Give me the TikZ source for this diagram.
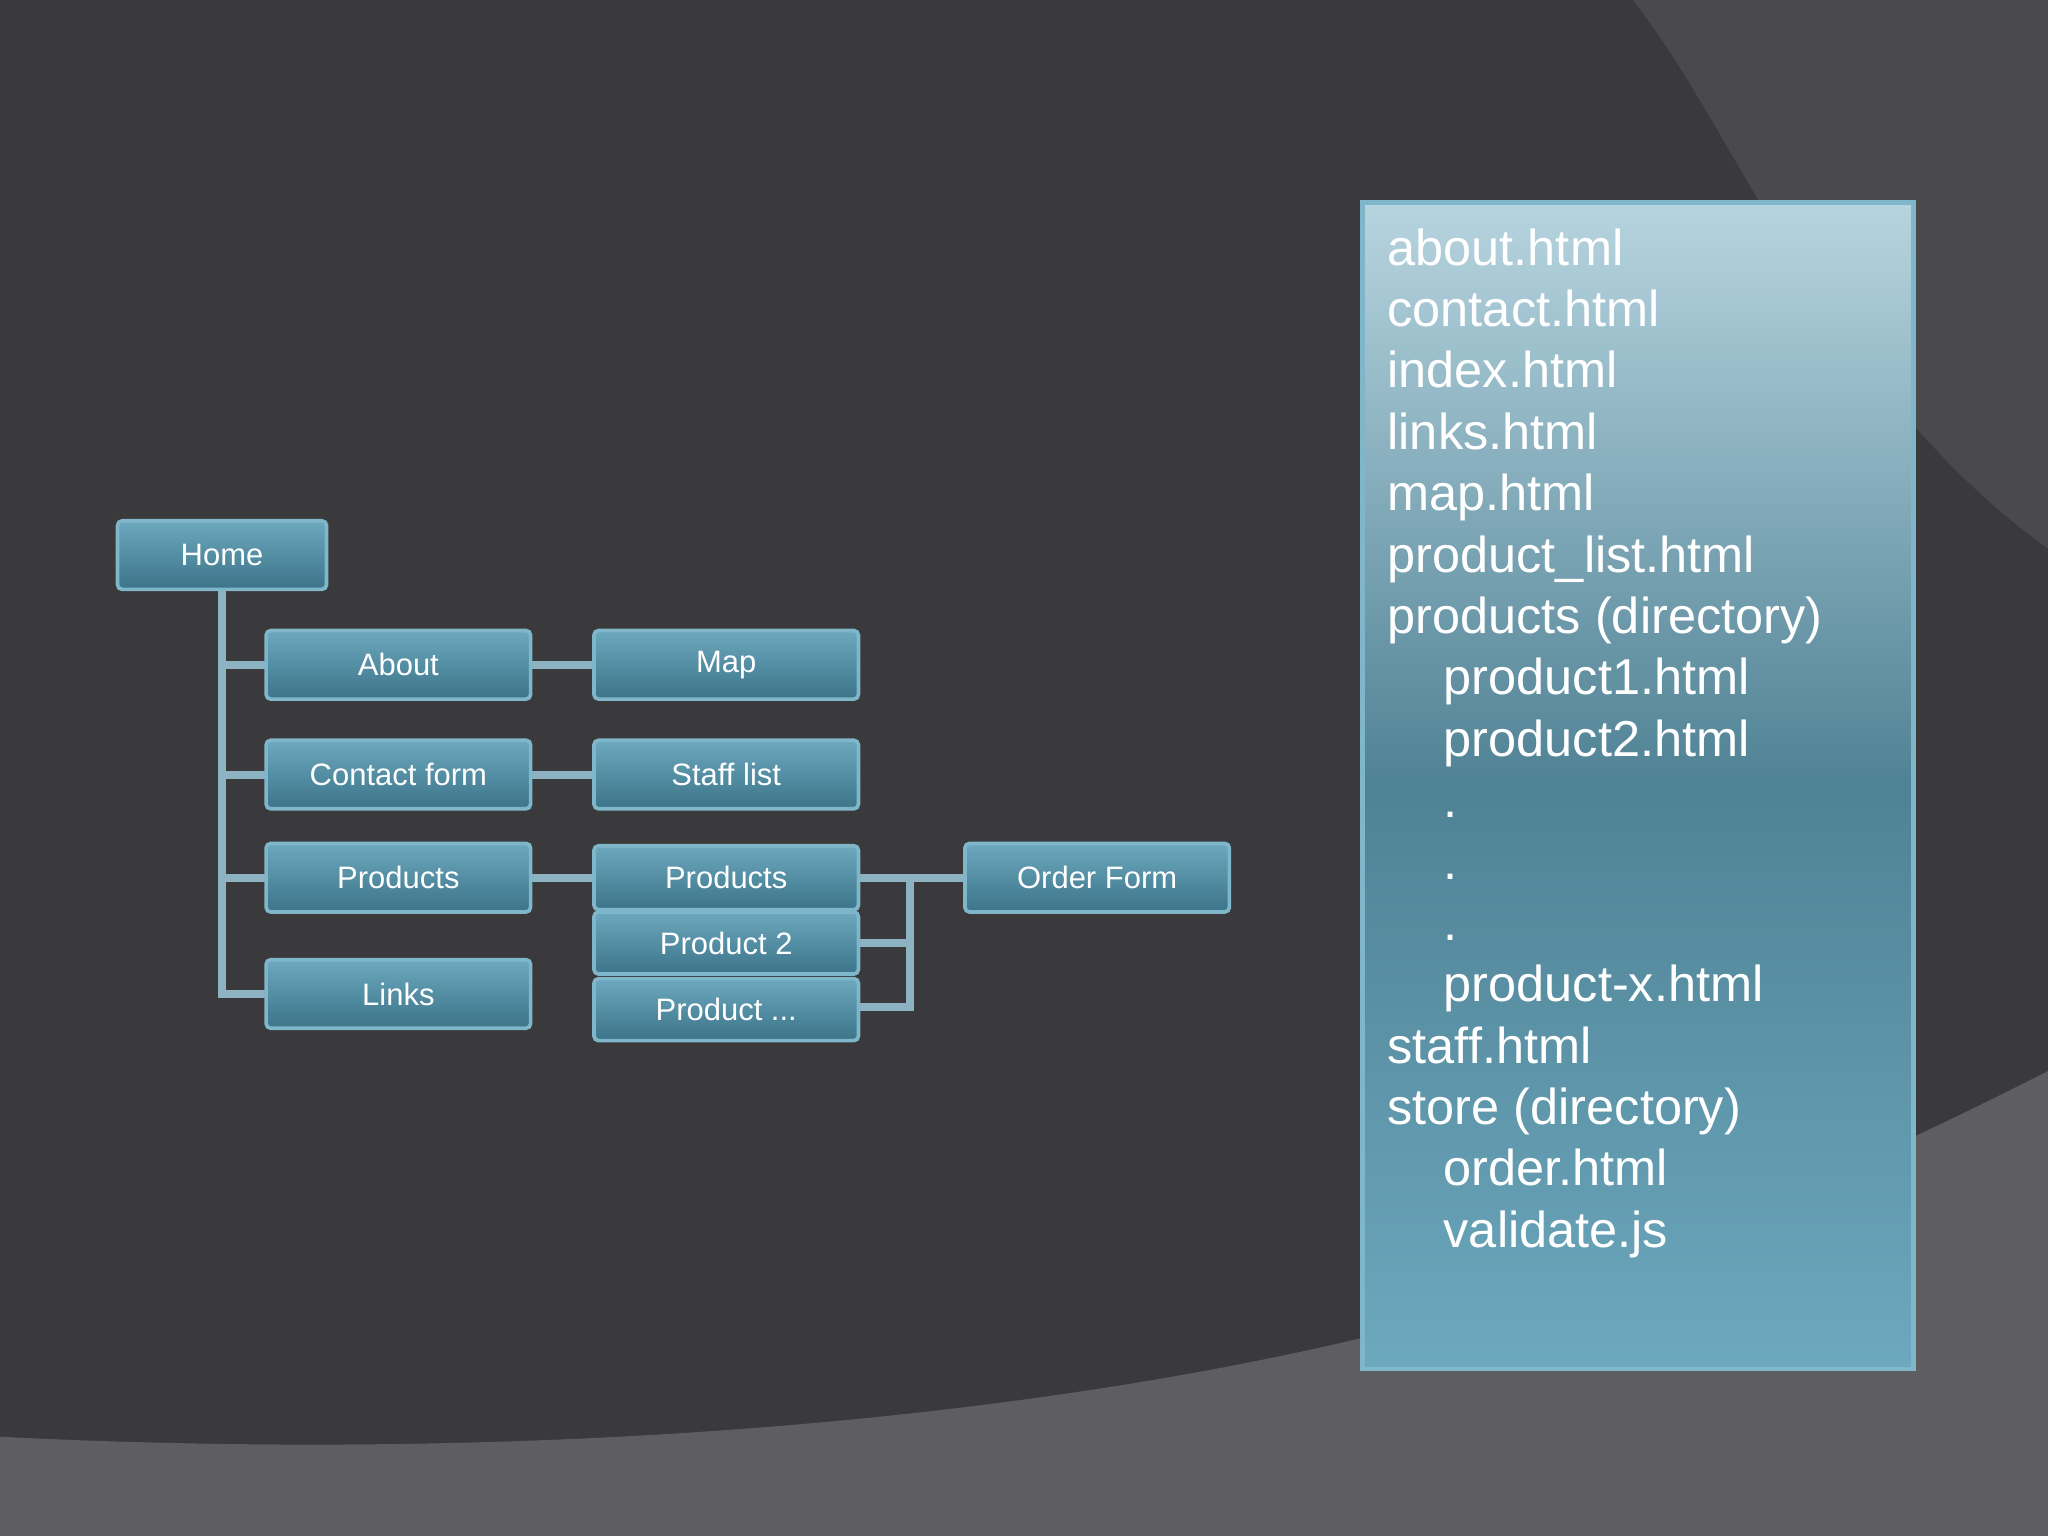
\documentclass[tikz,border=0pt]{standalone}
\usepackage{fontspec}
\setmainfont{Liberation Sans}
\begin{document}
\begin{tikzpicture}[x=0.02cm,y=-0.02cm,
  bx/.style={draw=boxedge,line width=1.6pt,top color=boxtop,bottom color=boxbot,
    rounded corners=2pt,text=white,font=\fontsize{13.5}{15}\selectfont,inner sep=0pt},
  ln/.style={draw=linec,line width=3.5pt},
  ft/.style={anchor=base west,text=white,font=\fontsize{22}{26}\selectfont,inner sep=0pt}]
\definecolor{bg}{HTML}{3A3A3C}
\definecolor{bg2}{HTML}{5E5D60}
\definecolor{bg3}{HTML}{4A4A4C}
\definecolor{boxtop}{HTML}{6CA8BE}
\definecolor{boxbot}{HTML}{3C7489}
\definecolor{boxedge}{HTML}{7FB6C9}
\definecolor{linec}{HTML}{8DB2C2}
\useasboundingbox (0,0) rectangle (1568,1176);
\fill[bg] (0,0) rectangle (1568,1176);
\fill[bg3] (1250,0) .. controls (1330,100) and (1400,300) .. (1568,420) -- (1568,0) -- cycle;
\fill[bg2] (0,1100) .. controls (400,1120) and (800,1090) .. (1100,1010) .. controls (1300,950) and (1450,880) .. (1568,820) -- (1568,1176) -- (0,1176) -- cycle;
% right panel
\shade[top color=boxtop!40!white!85!boxtop, bottom color=boxtop, middle color=boxbot!90!white, draw=boxedge, line width=2pt]
  (1043,155) rectangle (1465,1048);
\node[ft] (t1) at (1062,203) {about.html};
\node[ft] (t2) at (1062,250) {contact.html};
\node[ft] (t3) at (1062,297) {index.html};
\node[ft] (t4) at (1062,344) {links.html};
\node[ft] (t5) at (1062,391) {map.html};
\node[ft] (t6) at (1062,438) {product\_list.html};
\node[ft] (t7) at (1062,485) {products (directory)};
\node[ft] (t8) at (1105,532) {product1.html};
\node[ft] (t9) at (1105,579) {product2.html};
\node[ft] (t10) at (1105,626) {.};
\node[ft] (t11) at (1105,673) {.};
\node[ft] (t12) at (1105,720) {.};
\node[ft] (t13) at (1105,767) {product-x.html};
\node[ft] (t14) at (1062,814) {staff.html};
\node[ft] (t15) at (1062,861) {store (directory)};
\node[ft] (t16) at (1105,908) {order.html};
\node[ft] (t17) at (1105,955) {validate.js};
% connectors first
\coordinate (v1) at (170,452);
\coordinate (v2) at (170,761);
\coordinate (j1) at (697,672);
\coordinate (j2) at (697,771);
\draw[ln] (v1) -- (v2) -- (205,761);
\draw[ln] (170,509) -- (205,509);
\draw[ln] (170,593) -- (205,593);
\draw[ln] (170,672) -- (205,672);
\draw[ln] (405,509) -- (457,509);
\draw[ln] (405,593) -- (457,593);
\draw[ln] (405,672) -- (457,672);
\draw[ln] (655,672) -- (740,672);
\draw[ln] (j1) -- (j2) -- (655,771);
\draw[ln] (655,722) -- (697,722);
% boxes
\node[bx,minimum width=160\pgflinewidth] (home) at (170,425) [minimum width=3.2cm,minimum height=1.05cm] {Home};
\node[bx,minimum width=4.05cm,minimum height=1.05cm] (about) at (305,509) {About};
\node[bx,minimum width=4.05cm,minimum height=1.05cm] (map) at (556,509) {Map};
\node[bx,minimum width=4.05cm,minimum height=1.05cm] (contact) at (305,593) {Contact form};
\node[bx,minimum width=4.05cm,minimum height=1.05cm] (staff) at (556,593) {Staff list};
\node[bx,minimum width=4.05cm,minimum height=1.05cm] (prods) at (305,672) {Products};
\node[bx,minimum width=4.05cm,minimum height=1.05cm] (links) at (305,761) {Links};
\node[bx,minimum width=4.05cm,minimum height=0.98cm] (p1) at (556,672) {Products};
\node[bx,minimum width=4.05cm,minimum height=0.95cm] (p2) at (556,722) {Product 2};
\node[bx,minimum width=4.05cm,minimum height=0.95cm] (p3) at (556,773) {Product ...};
\node[bx,minimum width=4.05cm,minimum height=1.05cm] (order) at (840,672) {Order Form};
\end{tikzpicture}
\end{document}
